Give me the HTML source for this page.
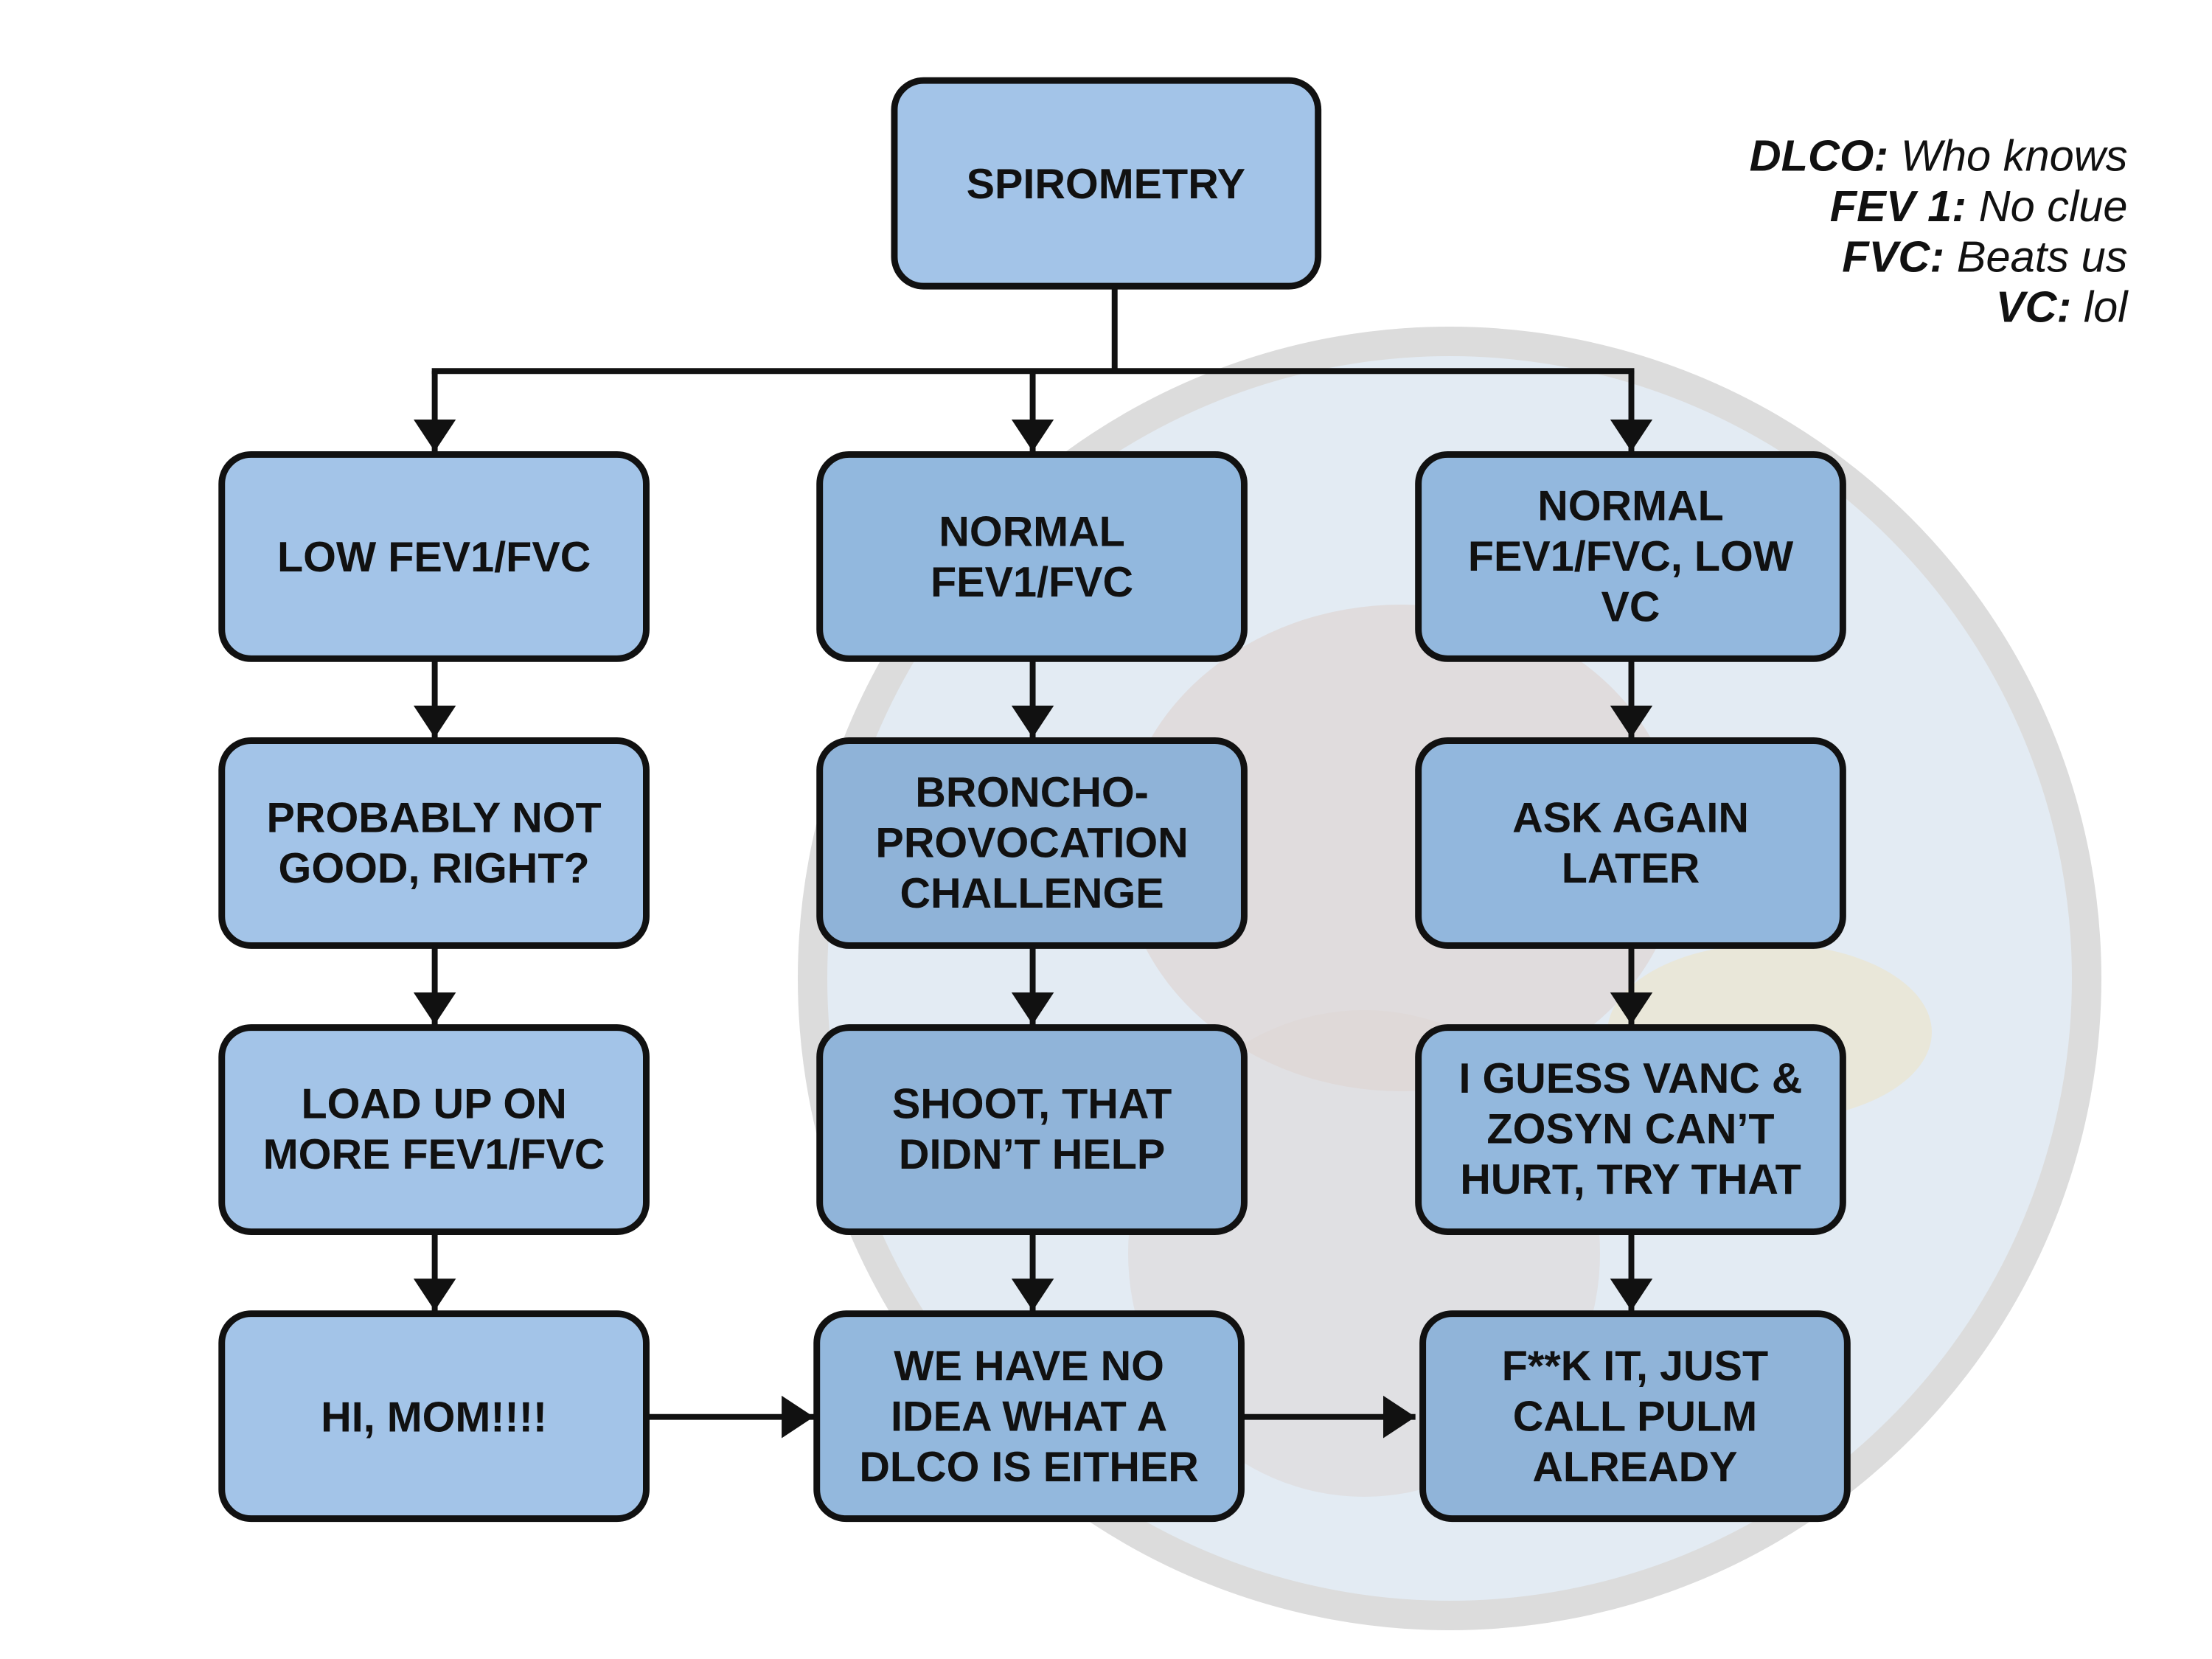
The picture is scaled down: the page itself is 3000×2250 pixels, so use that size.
<!DOCTYPE html>
<html><head><meta charset="utf-8"><style>
html,body{margin:0;padding:0;background:#fff}
svg{display:block}
text{font-family:"Liberation Sans",Arial,sans-serif;font-weight:bold;fill:#111}
</style></head><body>
<svg width="3000" height="2250" viewBox="0 0 3000 2250" xmlns="http://www.w3.org/2000/svg">
<defs>
<marker id="a" markerWidth="44" markerHeight="58" refX="44" refY="29" orient="auto" markerUnits="userSpaceOnUse">
<path d="M0,0 L44,29 L0,58 z" fill="#111"/></marker>
</defs>
<!-- watermark -->
<circle cx="1966" cy="1327" r="864" fill="#e3ebf3" stroke="#dcdcdc" stroke-width="40"/>
<ellipse cx="1900" cy="1150" rx="380" ry="330" fill="#ddd2cf" opacity="0.6"/>
<ellipse cx="1850" cy="1700" rx="320" ry="330" fill="#ddd6d3" opacity="0.5"/>
<ellipse cx="2400" cy="1400" rx="220" ry="120" fill="#ece5c8" opacity="0.6"/>
<g transform="scale(0.9926)">
<!-- connectors -->
<g stroke="#111" stroke-width="8" fill="none">
<line x1="1523" y1="391" x2="1523" y2="507"/>
<line x1="590" y1="507" x2="2233" y2="507"/>
<line x1="594" y1="507" x2="594" y2="617" marker-end="url(#a)"/>
<line x1="1411" y1="507" x2="1411" y2="617" marker-end="url(#a)"/>
<line x1="2229" y1="507" x2="2229" y2="617" marker-end="url(#a)"/>
<line x1="594" y1="900" x2="594" y2="1008" marker-end="url(#a)"/>
<line x1="594" y1="1292" x2="594" y2="1400" marker-end="url(#a)"/>
<line x1="594" y1="1683" x2="594" y2="1791" marker-end="url(#a)"/>
<line x1="1411" y1="900" x2="1411" y2="1008" marker-end="url(#a)"/>
<line x1="1411" y1="1292" x2="1411" y2="1400" marker-end="url(#a)"/>
<line x1="1411" y1="1683" x2="1411" y2="1791" marker-end="url(#a)"/>
<line x1="2229" y1="900" x2="2229" y2="1008" marker-end="url(#a)"/>
<line x1="2229" y1="1292" x2="2229" y2="1400" marker-end="url(#a)"/>
<line x1="2229" y1="1683" x2="2229" y2="1791" marker-end="url(#a)"/>
<line x1="883" y1="1936" x2="1112" y2="1936" marker-end="url(#a)"/>
<line x1="1700" y1="1936" x2="1934" y2="1936" marker-end="url(#a)"/>
</g>
<!-- boxes -->
<g stroke="#111" stroke-width="9">
<rect x="1222" y="110" width="579" height="281" rx="40" fill="#a3c4e8"/>
<rect x="303" y="621" width="580" height="279" rx="40" fill="#a3c4e8"/>
<rect x="303" y="1012" width="580" height="280" rx="40" fill="#a3c4e8"/>
<rect x="303" y="1404" width="580" height="279" rx="40" fill="#a3c4e8"/>
<rect x="303" y="1795" width="580" height="280" rx="40" fill="#a3c4e8"/>
<rect x="1120" y="621" width="580" height="279" rx="40" fill="#92b8de"/>
<rect x="1120" y="1012" width="580" height="280" rx="40" fill="#8fb3d8"/>
<rect x="1120" y="1404" width="580" height="279" rx="40" fill="#90b4d9"/>
<rect x="1116" y="1795" width="580" height="280" rx="40" fill="#93b8dd"/>
<rect x="1938" y="621" width="580" height="279" rx="40" fill="#93b8de"/>
<rect x="1938" y="1012" width="580" height="280" rx="40" fill="#92b7dd"/>
<rect x="1938" y="1404" width="580" height="279" rx="40" fill="#93b8dd"/>
<rect x="1944" y="1795" width="580" height="280" rx="40" fill="#90b4d9"/>
</g>
<g font-size="58" text-anchor="middle">
<text x="1511" y="271">SPIROMETRY</text>
<text x="593" y="781">LOW FEV1/FVC</text>
<text x="593" y="1137">PROBABLY NOT</text><text x="593" y="1206">GOOD, RIGHT?</text>
<text x="593" y="1528">LOAD UP ON</text><text x="593" y="1597">MORE FEV1/FVC</text>
<text x="593" y="1956">HI, MOM!!!!</text>
<text x="1410" y="746">NORMAL</text><text x="1410" y="815">FEV1/FVC</text>
<text x="1410" y="1102">BRONCHO-</text><text x="1410" y="1171">PROVOCATION</text><text x="1410" y="1240">CHALLENGE</text>
<text x="1410" y="1528">SHOOT, THAT</text><text x="1410" y="1597">DIDN’T HELP</text>
<text x="1406" y="1886">WE HAVE NO</text><text x="1406" y="1955">IDEA WHAT A</text><text x="1406" y="2024">DLCO IS EITHER</text>
<text x="2228" y="711">NORMAL</text><text x="2228" y="780">FEV1/FVC, LOW</text><text x="2228" y="849">VC</text>
<text x="2228" y="1137">ASK AGAIN</text><text x="2228" y="1206">LATER</text>
<text x="2228" y="1493">I GUESS VANC &amp;</text><text x="2228" y="1562">ZOSYN CAN’T</text><text x="2228" y="1631">HURT, TRY THAT</text>
<text x="2234" y="1886">F**K IT, JUST</text><text x="2234" y="1955">CALL PULM</text><text x="2234" y="2024">ALREADY</text>
</g>
<g font-size="60" text-anchor="end" font-style="italic">
<text x="2907" y="233">DLCO: <tspan font-weight="normal">Who knows</tspan></text>
<text x="2907" y="302">FEV 1: <tspan font-weight="normal">No clue</tspan></text>
<text x="2907" y="371">FVC: <tspan font-weight="normal">Beats us</tspan></text>
<text x="2907" y="440">VC: <tspan font-weight="normal">lol</tspan></text>
</g>
</g>
</svg>
</body></html>
